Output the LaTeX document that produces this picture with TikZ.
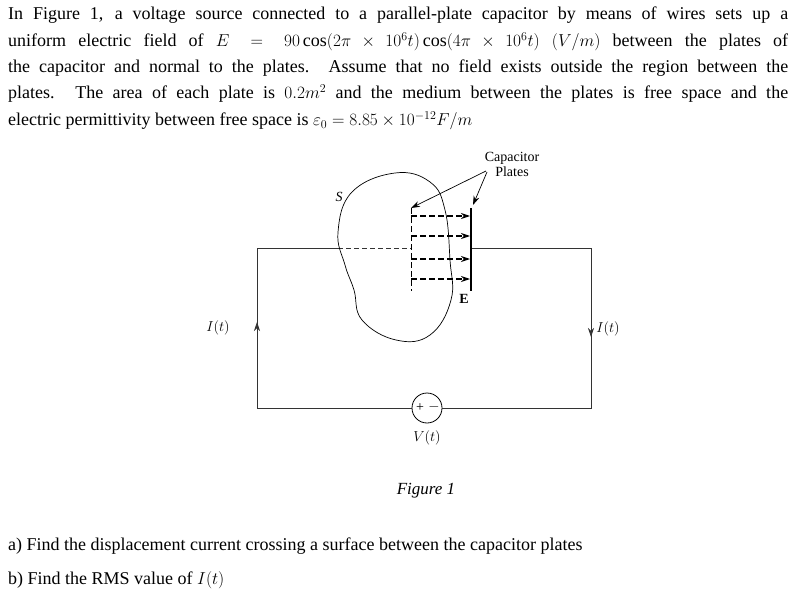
\documentclass[tikz,border=0pt]{standalone}
\usepackage{fontspec}
\setmainfont{Liberation Serif}
\usetikzlibrary{arrows.meta}
\begin{document}
\begin{tikzpicture}[x=1pt,y=-1pt,
  wire/.style={line width=0.7pt,draw=black!80},
  txt/.style={anchor=base west,inner sep=0,font=\fontsize{18}{21}\selectfont},
  lbl/.style={inner sep=0,font=\fontsize{14}{16}\selectfont},
  tip/.style={-{Stealth[length=9pt,width=6pt]}},
  harrow/.style={-{Stealth[length=9pt,width=6pt]},dashed,line width=1.1pt,dash pattern=on 6pt off 3pt}]
\path[use as bounding box] (0,0) rectangle (798,591);
\node[txt] (l1) at (8,20) {\makebox[780pt][s]{In Figure 1, a voltage source connected to a parallel-plate capacitor by means of wires sets up a}};
\node[txt] (l2) at (8,47) {\makebox[780pt][s]{uniform electric field of $E = 90\cos(2\pi\times10^6t)\cos(4\pi\times10^6t)\ (V/m)$ between the plates of}};
\node[txt] (l3) at (8,73) {\makebox[780pt][s]{the capacitor and normal to the plates. Assume that no field exists outside the region between the}};
\node[txt] (l4) at (8,99) {\makebox[780pt][s]{plates. The area of each plate is $0.2m^2$ and the medium between the plates is free space and the}};
\node[txt] (l5) at (8,126) {electric permittivity between free space is $\varepsilon_0 = 8.85\times10^{-12}F/m$};
\node[txt] (qa) at (8,550) {a) Find the displacement current crossing a surface between the capacitor plates};
\node[txt] (qb) at (8,584) {b) Find the RMS value of $I(t)$};
\node[lbl,font=\fontsize{17}{19}\selectfont\itshape] (fig) at (426,491) {Figure 1};
% circuit
\coordinate (tl) at (257,248); \coordinate (bl) at (257,408);
\coordinate (tr) at (591,248); \coordinate (br) at (591,408);
\node[draw,circle,minimum size=30pt,inner sep=0,line width=0.8pt] (src) at (427,408) {};
\node[lbl] (pl) at (420,408) {+};
\node[lbl] (mi) at (434,407) {$-$};
\node[lbl] (vt) at (427,438) {$V(t)$};
\draw[wire] (src.west) -- (bl) -- (tl) -- (338,248);
\draw[wire,dashed,dash pattern=on 5pt off 3pt] (338,248) -- (411,248);
\draw[wire] (src.east) -- (br) -- (tr) -- (471,248);
\draw[wire,tip] (257,340) -- (257,322);
\draw[wire,tip] (591,318) -- (591,337);
\node[lbl] (il) at (218,328) {$I(t)$};
\node[lbl] (ir) at (608,329) {$I(t)$};
% plates
\coordinate (p1t) at (411,208); \coordinate (p1b) at (411,291);
\coordinate (p2t) at (471,208); \coordinate (p2b) at (471,291);
\draw[line width=1pt,dashed,dash pattern=on 6pt off 3pt] (p1t) -- (p1b);
\draw[line width=1.4pt] (p2t) -- (p2b);
\foreach \y in {216,236,259,279}{
  \draw[harrow] (411,\y) -- (470,\y);}
\node[lbl,font=\fontsize{14}{16}\selectfont\bfseries] (E) at (464,299) {E};
% surface
\draw[line width=0.7pt] plot[smooth cycle,tension=0.7] coordinates {
 (395,173) (430,182) (445,210) (450,260) (451,300) (430,335) (396,340) (362,320) (354,290) (345,265) (338,232) (352,192)};
\node[lbl,font=\fontsize{14}{16}\selectfont\itshape] (S) at (339,197) {S};
% label
\node[lbl,align=center,font=\fontsize{14}{15}\selectfont] (cap) at (512,164) {Capacitor\\Plates};
\draw[line width=0.7pt,tip] (486,171) -- (p1t);
\draw[line width=0.7pt,tip] (487,172) -- (473,205);
\end{tikzpicture}
\end{document}
